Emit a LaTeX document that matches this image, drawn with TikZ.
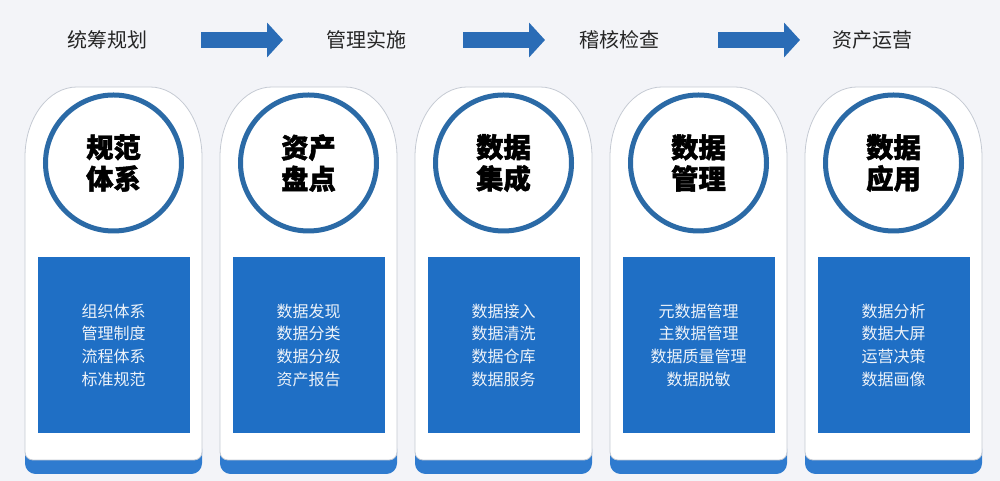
\documentclass[tikz,border=0pt]{standalone}
\usepackage{fontspec}
\newfontfamily\cjk{Noto Sans CJK SC}
\newfontfamily\cjkheavy[BoldFeatures={FakeBold=1.6}]{Noto Sans CJK SC}
\usetikzlibrary{arrows.meta}
\definecolor{bg}{HTML}{F3F4F8}
\definecolor{arrowcol}{HTML}{2A6CB6}
\definecolor{rectcol}{HTML}{1F6FC5}
\definecolor{basecol}{HTML}{2F7BCF}
\definecolor{circcol}{HTML}{2B6AA6}
\definecolor{cardline}{HTML}{C5CAD3}
\definecolor{listtext}{HTML}{EEF3F9}
\tikzset{
  toplabel/.style={font=\cjk\fontsize{15}{18}\selectfont, text=black!85, inner sep=0},
  arr/.style={line width=12pt, draw=arrowcol, -{Triangle[width=25.5pt,length=12pt]}},
  circ/.style={circle, draw=circcol, line width=3.75pt, minimum size=102pt, fill=white,
     font=\cjkheavy\bfseries\fontsize{20.5}{23.5}\selectfont, align=center, inner sep=0},
  blk/.style={fill=rectcol, minimum width=114pt, minimum height=132pt, inner sep=0,
     text=listtext, font=\cjk\fontsize{12}{17}\selectfont, align=center},
  cardbody/.style={draw=cardline, line width=0.6pt, fill=white},
}
\begin{document}
\begin{tikzpicture}[x=0.75pt,y=0.75pt]
\fill[bg] (0,0) rectangle (1000,481);
\useasboundingbox (0,0) rectangle (1000,481);
% top labels
\node[toplabel] (t1) at (107,441) {统筹规划};
\node[toplabel] (t2) at (366,441) {管理实施};
\node[toplabel] (t3) at (619,441) {稽核检查};
\node[toplabel] (t4) at (872,441) {资产运营};
\coordinate (a1s) at (201,441); \coordinate (a1e) at (283,441);
\coordinate (a2s) at (463,441); \coordinate (a2e) at (545,441);
\coordinate (a3s) at (718,441); \coordinate (a3e) at (800,441);
\draw[arr] (a1s) -- (a1e);
\draw[arr] (a2s) -- (a2e);
\draw[arr] (a3s) -- (a3e);
% cards
\foreach \i/\cx/\t/\l in {
  1/113.5/{规范\\体系}/{组织体系\\管理制度\\流程体系\\标准规范},
  2/308.5/{资产\\盘点}/{数据发现\\数据分类\\数据分级\\资产报告},
  3/503.5/{数据\\集成}/{数据接入\\数据清洗\\数据仓库\\数据服务},
  4/698.5/{数据\\管理}/{元数据管理\\主数据管理\\数据质量管理\\数据脱敏},
  5/893.5/{数据\\应用}/{数据分析\\数据大屏\\运营决策\\数据画像}}{
  \fill[basecol, rounded corners=8] (\cx-88.5,7) rectangle (\cx+88.5,43);
  \draw[cardbody] (\cx-88.5,29) -- (\cx-88.5,324) arc[start angle=180, end angle=90, x radius=52, y radius=70]
     -- (\cx+36.5,394)
     arc[start angle=90, end angle=0, x radius=52, y radius=70] -- (\cx+88.5,29)
     arc[start angle=0, end angle=-90, radius=8] -- (\cx-80.5,21)
     arc[start angle=-90, end angle=-180, radius=8] -- cycle;
  \node[circ] (c\i) at (\cx,318) {\t};
  \node[blk] (b\i) at (\cx,136) {\l};
}
\end{tikzpicture}
\end{document}
